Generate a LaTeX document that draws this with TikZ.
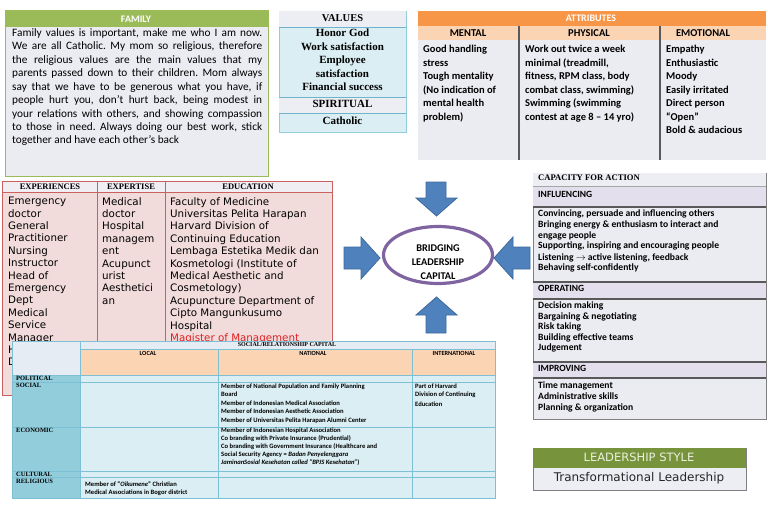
\documentclass[tikz,border=0pt]{standalone}
\usepackage{fontspec}
\setmainfont{Carlito}
\newfontfamily\srf{Liberation Serif}
\newfontfamily\dvs{DejaVu Sans}
\usetikzlibrary{shapes.geometric}
\definecolor{famgreen}{HTML}{9BBB59}
\definecolor{bodygrey}{HTML}{EBEBF2}
\definecolor{valblue}{HTML}{DAEEF3}
\definecolor{valline}{HTML}{6FB4CC}
\definecolor{lav}{HTML}{EDEDF4}
\definecolor{attor}{HTML}{F79646}
\definecolor{lightor}{HTML}{FBD4B4}
\definecolor{pinkfill}{HTML}{F2DCDB}
\definecolor{hdrlav}{HTML}{F0EDF3}
\definecolor{redline}{HTML}{C9625F}
\definecolor{socleft}{HTML}{92CDDC}
\definecolor{socline}{HTML}{7DBFD3}
\definecolor{sochdr}{HTML}{E6ECF3}
\definecolor{arrblue}{HTML}{4F81BD}
\definecolor{arrline}{HTML}{3D6A9E}
\definecolor{elpurple}{HTML}{8064A2}
\definecolor{subpur}{HTML}{E4DFEC}
\definecolor{darkdiv}{HTML}{595959}
\definecolor{lsgreen}{HTML}{77933C}
\definecolor{lstext}{HTML}{EBF1DE}
\definecolor{magred}{HTML}{E02020}
\newcommand\jl[1]{\makebox[250pt][s]{#1}}
\newcommand\fs[2]{\fontsize{#1}{#2}\selectfont}
\frenchspacing
\begin{document}
\begin{tikzpicture}[x=1pt,y=-1pt,
  txt/.style={inner sep=0pt, anchor=north west, align=left},
  ctxt/.style={inner sep=0pt, anchor=north, align=center},
  lbl/.style={inner sep=0pt},
  blockarrow/.style={fill=arrblue, draw=arrline, line width=0.8pt, line join=miter}]
\useasboundingbox (0,0) rectangle (768,532);
\fill[white] (0,0) rectangle (768,532);

% ---------------- FAMILY
\filldraw[fill=bodygrey, draw=famgreen, line width=1pt] (5,11) rectangle (268,176);
\fill[famgreen] (5,11) rectangle (268,27);
\node[lbl, text=white, font=\bfseries\fs{10}{12}] (famh) at (136,19) {FAMILY};
\node[txt, font=\fs{11.3}{13.45}] (famt) at (12,28.3) {%
\jl{Family values is important, make me who I am now.}\\
\jl{We are all Catholic. My mom so religious, therefore}\\
\jl{the religious values are the main values that my}\\
\jl{parents passed down to their children. Mom always}\\
\jl{say that we have to be generous what you have, if}\\
\jl{people hurt you, don’t hurt back, being modest in}\\
\jl{your relations with others, and showing compassion}\\
\jl{to those in need. Always doing our best work, stick}\\
together and have each other’s back};

% ---------------- VALUES
\filldraw[fill=valblue, draw=socleft, line width=0.8pt] (279,11) rectangle (406,132);
\fill[lav] (279.4,11.4) rectangle (405.6,27);
\fill[lav] (279.4,97) rectangle (405.6,113);
\draw[valline, line width=0.8pt] (279,27) -- (406,27) (279,97) -- (406,97) (279,113) -- (406,113);
\node[lbl, font=\srf\bfseries\fs{10.5}{12}] (valh) at (342.5,18) {VALUES};
\node[ctxt, font=\srf\bfseries\fs{11}{13.5}] (valt) at (342.5,29) {Honor God\\Work satisfaction\\Employee\\satisfaction\\Financial success};
\node[lbl, font=\srf\bfseries\fs{11}{13}] (spir) at (342.5,104) {SPIRITUAL};
\node[lbl, font=\srf\bfseries\fs{11}{13}] (cath) at (342.5,121) {Catholic};

% ---------------- ATTRIBUTES
\fill[bodygrey] (418,11) rectangle (766,160);
\fill[attor] (418,11) rectangle (766,26);
\fill[lightor] (418,26) rectangle (766,40);
\draw[darkdiv, line width=1.3pt] (519,26) -- (519,160) (660,26) -- (660,160);
\node[lbl, text=white, font=\bfseries\fs{10}{12}] (atth) at (591,18) {ATTRIBUTES};
\node[lbl, font=\bfseries\fs{10.5}{12}] (menh) at (468,33) {MENTAL};
\node[lbl, font=\bfseries\fs{10.5}{12}] (phyh) at (589,33) {PHYSICAL};
\node[lbl, font=\bfseries\fs{10.5}{12}] (emoh) at (703,33) {EMOTIONAL};
\node[txt, font=\bfseries\fs{10.5}{13.5}] (ment) at (423,45) {Good handling\\stress\\Tough mentality\\(No indication of\\mental health\\problem)};
\node[txt, font=\bfseries\fs{10.5}{13.5}] (phyt) at (525,45) {Work out twice a week\\minimal (treadmill,\\fitness, RPM class, body\\combat class, swimming)\\Swimming (swimming\\contest at age 8 – 14 yro)};
\node[txt, font=\bfseries\fs{10.5}{13.5}] (emot) at (666,45) {Empathy\\Enthusiastic\\Moody\\Easily irritated\\Direct person\\“Open”\\Bold \& audacious};

% ---------------- EXPERIENCES / EXPERTISE / EDUCATION
\filldraw[fill=pinkfill, draw=redline, line width=0.8pt] (2,181) rectangle (332,395);
\filldraw[fill=hdrlav, draw=redline, line width=0.8pt] (2,181) rectangle (332,192);
\draw[redline, line width=0.8pt] (97,181) -- (97,395) (165,181) -- (165,395);
\node[lbl, font=\srf\bfseries\fs{8.5}{10}] (exph) at (50,187) {EXPERIENCES};
\node[lbl, font=\srf\bfseries\fs{8.5}{10}] (xpth) at (131,187) {EXPERTISE};
\node[lbl, font=\srf\bfseries\fs{8.5}{10}] (eduh) at (248,187) {EDUCATION};
\node[txt, font=\dvs\fs{10.3}{12.4}] (expt) at (8,197) {Emergency\\doctor\\General\\Practitioner\\Nursing\\Instructor\\Head of\\Emergency\\Dept\\Medical\\Service\\Manager\\H\\D};
\node[txt, font=\dvs\fs{10.3}{12.4}] (xptt) at (102,197) {Medical\\doctor\\Hospital\\managem\\ent\\Acupunct\\urist\\Aesthetici\\an};
\node[txt, font=\dvs\fs{10.3}{12.4}] (edut) at (170,197) {Faculty of Medicine\\Universitas Pelita Harapan\\Harvard Division of\\Continuing Education\\Lembaga Estetika Medik dan\\Kosmetologi (Institute of\\Medical Aesthetic and\\Cosmetology)\\Acupuncture Department of\\Cipto Mangunkusumo\\Hospital\\\textcolor{magred}{Magister of Management}};

% ---------------- SOCIAL / RELATIONSHIP CAPITAL
\fill[valblue] (12,341) rectangle (495,498);
\fill[socleft] (12,375) rectangle (80,498);
\fill[sochdr] (12,341) rectangle (80,375);
\fill[sochdr] (80,341) rectangle (495,349);
\fill[lightor] (80,349) rectangle (495,375);
\draw[socline, line width=0.8pt] (12,341) rectangle (495,498);
\draw[socline, line width=0.8pt] (80,349) -- (495,349);
\draw[socline, line width=0.8pt] (12,375) -- (495,375) (12,382) -- (495,382) (12,427) -- (495,427) (12,471) -- (495,471) (12,477) -- (495,477);
\draw[socline, line width=0.8pt] (80,341) -- (80,498) (218,349) -- (218,498) (412,349) -- (412,498);
\node[lbl, font=\srf\bfseries\fs{6}{7}] (soct) at (287,345) {SOCIAL/RELATIONSHIP CAPITAL};
\node[lbl, font=\bfseries\fs{6.3}{7}] (loch) at (148,353) {LOCAL};
\node[lbl, font=\bfseries\fs{6.3}{7}] (nath) at (313,353) {NATIONAL};
\node[lbl, font=\bfseries\fs{6.3}{7}] (inth) at (454,353) {INTERNATIONAL};
\node[txt, font=\srf\bfseries\fs{6.5}{7}] (polh) at (16,375.8) {POLITICAL};
\node[txt, font=\srf\bfseries\fs{6.5}{7}] (solh) at (16,383) {SOCIAL};
\node[txt, font=\srf\bfseries\fs{6.5}{7}] (ecoh) at (16,428) {ECONOMIC};
\node[txt, font=\srf\bfseries\fs{6.5}{7}] (culh) at (16,471.8) {CULTURAL};
\node[txt, font=\srf\bfseries\fs{6.5}{7}] (relh) at (16,478.5) {RELIGIOUS};
\node[txt, font=\bfseries\fs{6.6}{8}] (socn) at (221,383.5) {Member of National Population and Family Planning\\Board\\[1pt]Member of Indonesian Medical Association\\Member of Indonesian Aesthetic Association\\[1.5pt]Member of Universitas Pelita Harapan Alumni Center};
\node[txt, font=\bfseries\fs{6.6}{8}] (econ) at (221,427.5) {Member of Indonesian Hospital Association\\Co branding with Private Insurance (Prudential)\\Co branding with Government Insurance (Healthcare and\\Social Security Agency = \textit{Badan Penyelenggara}\\\textit{JaminanSosial Kesehatan called “BPJS Kesehatan”})};
\node[txt, font=\bfseries\fs{6.6}{8}] (soci) at (415,383.5) {Part of Harvard\\Division of Continuing\\[2pt]Education};
\node[txt, font=\bfseries\fs{6.6}{8.5}] (rell) at (85,481) {Member of “\textit{Oikumene}” Christian\\Medical Associations in Bogor district};

% ---------------- BLOCK ARROWS AND CENTRE
\filldraw[blockarrow] (426,182) -- (446,182) -- (446,198) -- (457,198) -- (436.5,216) -- (416,198) -- (426,198) -- cycle;
\filldraw[blockarrow] (344,247) -- (361,247) -- (361,237) -- (380,258) -- (361,279) -- (361,269) -- (344,269) -- cycle;
\filldraw[blockarrow] (530,247) -- (513,247) -- (513,237) -- (494,258) -- (513,279) -- (513,269) -- (530,269) -- cycle;
\filldraw[blockarrow] (426,333) -- (446,333) -- (446,315) -- (457,315) -- (436.5,297) -- (416,315) -- (426,315) -- cycle;
\node[ellipse, draw=elpurple, line width=3.2pt, fill=white, minimum width=109, minimum height=57, inner sep=0pt] (blc) at (438,255) {};
\node[lbl, align=center, font=\bfseries\fs{10.3}{14.3}] (blct) at (438,262) {BRIDGING\\LEADERSHIP\\CAPITAL};

% ---------------- CAPACITY FOR ACTION
\filldraw[fill=bodygrey, draw=gray, line width=0.8pt] (533,173) rectangle (766,419);
\fill[lav] (533.4,173.4) rectangle (765.6,186);
\fill[subpur] (533.4,187) rectangle (765.6,207);
\fill[subpur] (533.4,282) rectangle (765.6,299);
\fill[subpur] (533.4,362) rectangle (765.6,378);
\draw[gray!70, line width=0.6pt] (533,186.5) -- (766,186.5);
\draw[darkdiv, line width=1.2pt] (533,207) -- (766,207) (533,282) -- (766,282) (533,299) -- (766,299) (533,362) -- (766,362) (533,378) -- (766,378);
\node[lbl, anchor=west, font=\srf\bfseries\fs{8.6}{10}] (caph) at (538,178) {CAPACITY FOR ACTION};
\node[lbl, anchor=west, font=\bfseries\fs{9.5}{11}] (infh) at (538,194) {INFLUENCING};
\node[txt, font=\bfseries\fs{9.6}{10.8}] (inft) at (538,209.5) {Convincing, persuade and influencing others\\Bringing energy \& enthusiasm to interact and\\engage people\\Supporting, inspiring and encouraging people\\[0.5pt]Listening \(\rightarrow\) active listening, feedback\\Behaving self-confidently};
\node[lbl, anchor=west, font=\bfseries\fs{9.5}{11}] (oph) at (538,288) {OPERATING};
\node[txt, font=\bfseries\fs{9.6}{10.6}] (opt) at (538,301.5) {Decision making\\Bargaining \& negotiating\\Risk taking\\Building effective teams\\Judgement};
\node[lbl, anchor=west, font=\bfseries\fs{9.5}{11}] (imh) at (538,368) {IMPROVING};
\node[txt, font=\bfseries\fs{9.6}{11}] (imt) at (538,381.5) {Time management\\Administrative skills\\Planning \& organization};

% ---------------- LEADERSHIP STYLE
\filldraw[fill=lav, draw=gray, line width=0.8pt] (533,448) rectangle (746,490);
\fill[lsgreen] (533.4,448.4) rectangle (745.6,468);
\node[lbl, text=lstext, font=\dvs\fs{11.5}{13}] (lsh) at (639,457.5) {LEADERSHIP STYLE};
\node[lbl, text=black!85, font=\dvs\fs{12}{14}] (lst) at (639,478.5) {Transformational Leadership};
\end{tikzpicture}
\end{document}
